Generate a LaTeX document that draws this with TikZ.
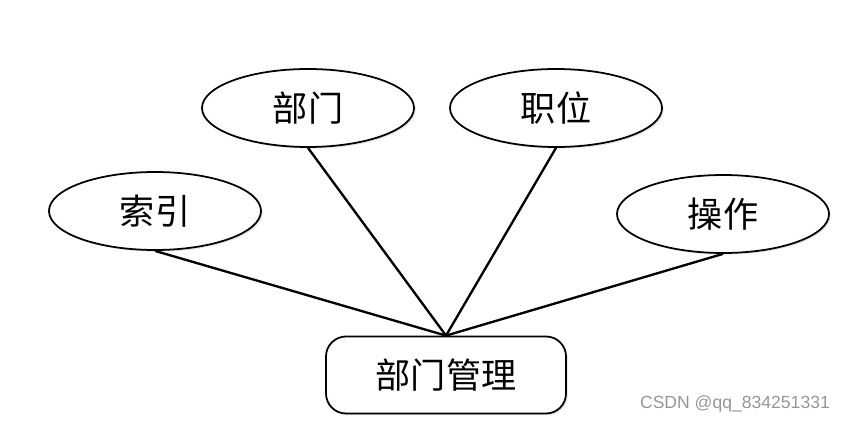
\documentclass[tikz,border=0pt]{standalone}
\usepackage{fontspec}
\newfontfamily\cjk{Noto Sans CJK SC}
\setsansfont{Liberation Sans}
\usepackage{tikz}
\usetikzlibrary{positioning, shapes.geometric, shadows}
\definecolor{glowblue}{RGB}{200,220,240}
\definecolor{markgray}{RGB}{150,150,150}

\begin{document}
\begin{tikzpicture}[x=0.03cm, y=-0.03cm,
    attr/.style={ellipse, draw, line width=1.5pt, minimum width=6.36cm, minimum height=2.34cm,
      font=\cjk\fontsize{30}{30}\selectfont, fill=white,
      drop shadow={shadow xshift=0.05cm, shadow yshift=-0.05cm, fill=glowblue, opacity=0.7}},
    entity/.style={rectangle, rounded corners=0.6cm, draw, line width=1.5pt, minimum width=7.2cm,
      minimum height=2.31cm, font=\cjk\fontsize{30}{30}\selectfont, fill=white,
      drop shadow={shadow xshift=0.05cm, shadow yshift=-0.05cm, fill=glowblue, opacity=0.7}},
    link/.style={line width=2pt}]
  % Frame
  \useasboundingbox (0,0) rectangle (848,422);
  % Entity
  \node[entity] (mgmt) at (446,375) {部门管理};
  % Attributes
  \node[attr] (index) at (155,211) {索引};
  \node[attr] (dept) at (308,108) {部门};
  \node[attr] (post) at (556,108) {职位};
  \node[attr] (oper) at (723,214) {操作};
  % Links
  \draw[link] (index.south) -- (mgmt.north);
  \draw[link] (dept.south) -- (mgmt.north);
  \draw[link] (post.south) -- (mgmt.north);
  \draw[link] (oper.south) -- (mgmt.north);
  % Watermark
  \node[font=\sffamily\fontsize{15}{15}\selectfont, text=markgray, anchor=east] (mark) at (834,404) {CSDN @qq\_834251331};
\end{tikzpicture}
\end{document}
